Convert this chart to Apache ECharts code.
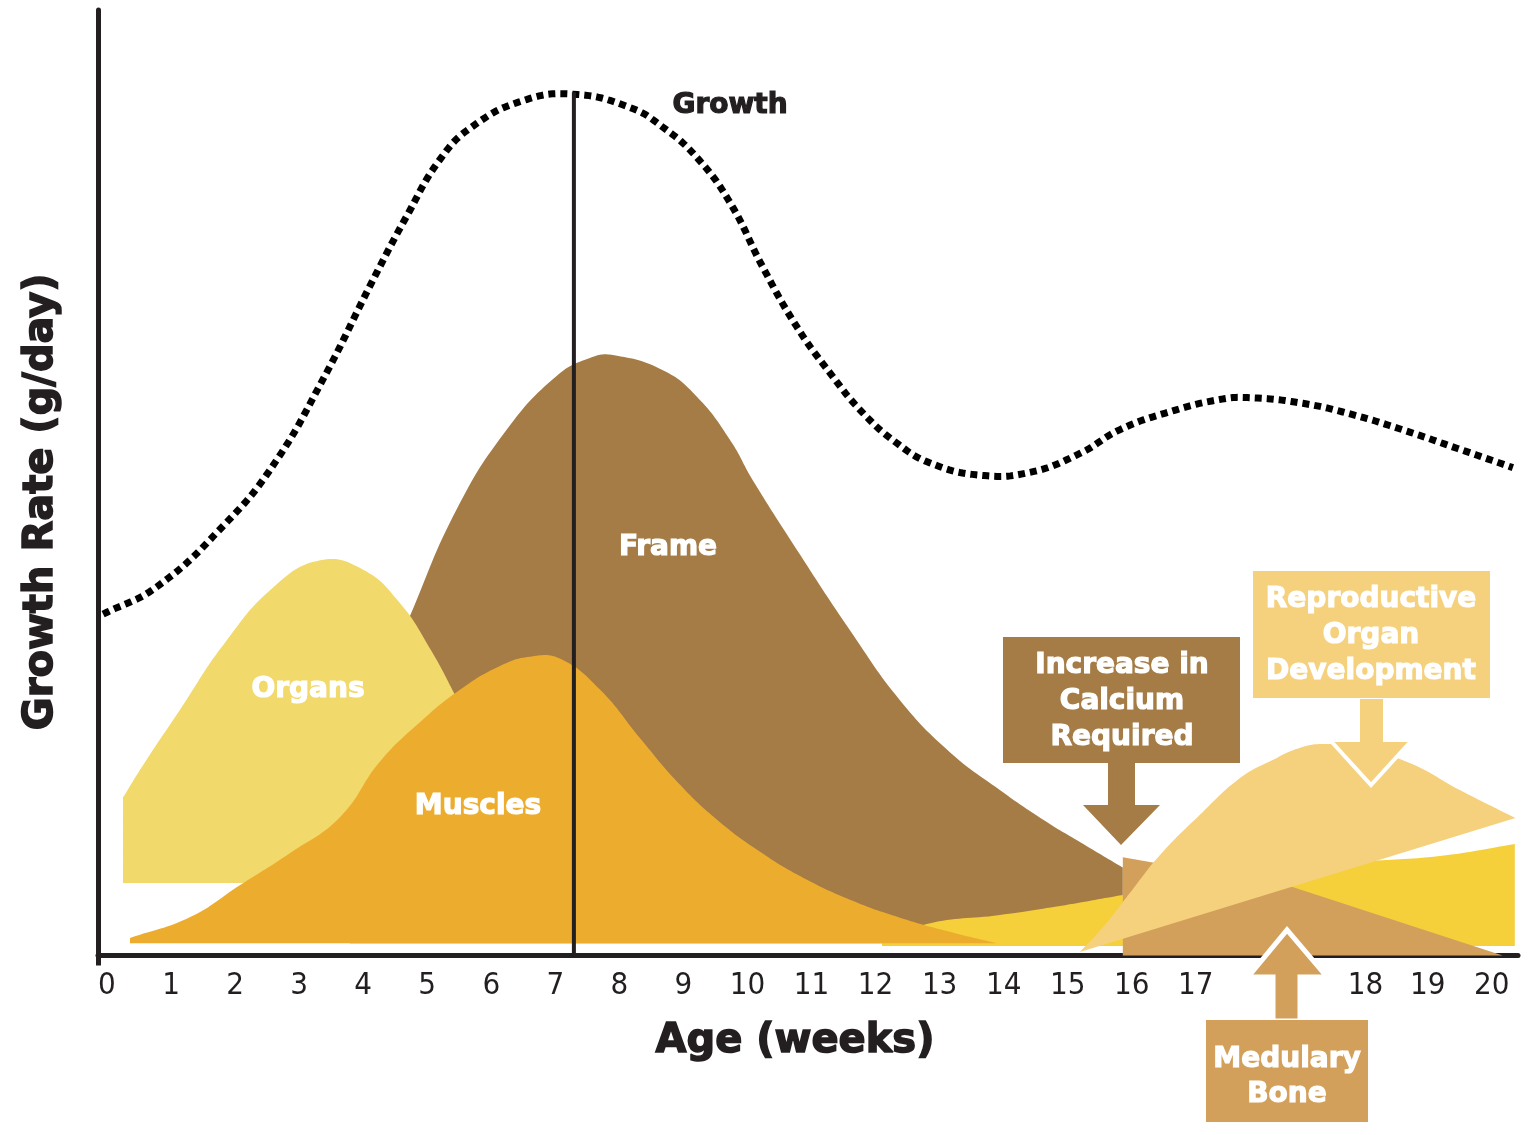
<!DOCTYPE html>
<html>
<head>
<meta charset="utf-8">
<title>Growth Rate (g/day)</title>
<script src="https://cdn.jsdelivr.net/npm/echarts@6/dist/echarts.min.js"></script>
<style>
  html, body { margin: 0; padding: 0; background: #fff; }
  #chart { width: 1536px; height: 1135px; }
</style>
</head>
<body>
<div id="chart"></div>
<script>
// x is in axis weeks: 0..17 evenly spaced, then the axis jumps (room for the arrow) before 18
var ageTicks  = [0,1,2,3,4,5,6,7,8,9,10,11,12,13,14,15,16,17,19.65,20.62,21.62];
var ageLabels = ['0','1','2','3','4','5','6','7','8','9','10','11','12','13','14','15','16','17','18','19','20'];

// [x, growth rate] (y axis has no scale, 0..100)
var growth = [[-0.06,36.1],[0.78,39.0],[1.81,45.4],[2.59,51.8],[3.37,60.9],[4.15,71.4],[4.68,78.2],
  [5.20,84.2],[5.71,87.7],[6.49,90.4],[7.27,91.1],[8.16,89.7],[8.68,87.6],[9.21,84.4],[9.73,79.6],
  [10.24,72.8],[10.77,66.5],[11.29,61.6],[11.80,57.4],[12.33,54.2],[12.85,52.1],[13.63,50.8],
  [14.41,51.1],[15.19,53.1],[15.81,55.6],[16.59,57.5],[17.37,58.8],[17.84,59.0],[18.67,58.4],
  [19.45,57.2],[20.23,55.6],[21.01,53.8],[21.95,51.6]];

var frame = [[3.79,19.6],[4.26,28.1],[4.73,35.9],[5.46,47.2],[6.24,55.6],[7.02,61.3],[7.54,63.2],
  [7.90,63.5],[8.68,61.9],[9.21,59.1],[9.73,54.5],[10.08,50.3],[10.82,42.4],[11.60,34.4],
  [12.38,27.0],[13.16,21.5],[13.94,17.5],[14.63,14.3],[15.19,12.0],[15.86,9.3]];

var organs = [[0.25,16.7],[0.56,20.1],[1.14,26.0],[1.81,32.8],[2.59,38.9],[3.33,41.8],[4.00,40.8],
  [4.57,37.3],[5.04,32.5],[5.43,27.6],[5.82,22.3],[6.21,16.5],[6.60,11.2],[6.92,7.8]];

var muscles = [[0.36,1.85],[1.30,4.07],[2.08,7.46],[2.86,10.84],[3.64,14.65],[4.26,20.5],[4.89,24.7],
  [5.51,28.1],[6.13,30.6],[6.60,31.6],[7.07,31.4],[7.70,28.1],[8.32,23.0],[8.94,18.1],[9.57,14.1],
  [10.19,11.0],[10.82,8.4],[11.60,5.9],[12.38,4.0],[13.16,2.5],[13.89,1.3]];

var calcium = [[12.10,1.3],[12.80,3.33],[13.94,4.28],[14.88,5.24],[15.86,6.40],[17.06,7.77],
  [18.47,9.04],[19.56,9.89],[20.81,10.52],[21.98,11.79]];

var medullary = [[15.86,10.4],[18.51,7.24],[21.79,0]];

var reproTop = [[15.19,0.37],[15.58,3.23],[15.97,6.61],[16.44,10.63],[17.06,14.86],[17.69,18.77],
  [18.20,20.68],[18.62,21.95],[19.01,22.37],[19.56,21.95],[20.34,20.36],[21.12,17.50],[21.99,14.54]];
var reproBase = [[15.19,0.37],[21.99,14.54]];

var peakWeek = [[7.29,0],[7.29,91.3]];

var dark = '#231F20';
var heavy = '"DejaVu Sans", "Liberation Sans", sans-serif';

// smooth curve through pixel points (cubic segments, sampled for drawing)
function sampleCurve(px, s) {
  function dist(a, b) { return Math.hypot(b[0] - a[0], b[1] - a[1]); }
  var out = [px[0]];
  for (var i = 0; i < px.length - 1; i++) {
    var p0 = px[i - 1] || px[i], p1 = px[i], p2 = px[i + 1], p3 = px[i + 2] || px[i + 1];
    var d01 = dist(p0, p1), d12 = dist(p1, p2), d23 = dist(p2, p3);
    var k1 = s * d12 / (d01 + d12), k2 = s * d12 / (d12 + d23);
    var c1 = [p1[0] + (p2[0] - p0[0]) * k1, p1[1] + (p2[1] - p0[1]) * k1];
    var c2 = [p2[0] - (p3[0] - p1[0]) * k2, p2[1] - (p3[1] - p1[1]) * k2];
    for (var j = 1; j <= 16; j++) {
      var t = j / 16, u = 1 - t;
      out.push([
        u*u*u*p1[0] + 3*u*u*t*c1[0] + 3*u*t*t*c2[0] + t*t*t*p2[0],
        u*u*u*p1[1] + 3*u*u*t*c1[1] + 3*u*t*t*c2[1] + t*t*t*p2[1]
      ]);
    }
  }
  return out;
}

function shape(name, pts, cfg) {
  return {
    name: name, type: 'custom', silent: true, z: cfg.z || 2, data: pts,
    renderItem: function (params, api) {
      if (params.dataIndex !== 0) return null;
      var px = pts.map(function (p) { return api.coord(p); });
      var line = cfg.smooth ? sampleCurve(px, cfg.smooth) : px;
      if (cfg.stroke) {
        return { type: 'polyline', shape: { points: line },
          style: { fill: 'none', stroke: cfg.stroke, lineWidth: cfg.width, lineDash: cfg.dash, lineCap: 'butt' } };
      }
      var poly;
      if (cfg.base) {
        var bp = cfg.base.map(function (p) { return api.coord(p); });
        poly = line.concat(bp.slice(1, -1).reverse());
      } else {
        var oy = api.coord([0, cfg.origin])[1];
        poly = [[px[0][0], oy]].concat(line, [[px[px.length - 1][0], oy]]);
      }
      return { type: 'polygon', shape: { points: poly }, style: { fill: cfg.color } };
    }
  };
}

function boxText(x, y, text, color, lh) {
  return {
    type: 'text', z: 110, x: x, y: y,
    style: { text: text, fill: color, font: 'bold 28px ' + heavy, align: 'center',
      verticalAlign: 'middle', lineHeight: lh || 36, stroke: color, lineWidth: 1.2 }
  };
}

var chart = echarts.init(document.getElementById('chart'));

var option = {
  animation: false,
  grid: { left: 98, right: 18, top: 10, bottom: 179.5 },
  xAxis: {
    type: 'value', min: -0.14, max: 22.03,
    splitLine: { show: false },
    axisLine: { lineStyle: { color: dark, width: 5 } },
    axisTick: { show: true, customValues: [-0.14], length: 10, lineStyle: { color: dark, width: 5 } },
    axisLabel: {
      customValues: ageTicks,
      formatter: function (v) {
        var best = 0;
        ageTicks.forEach(function (t, i) { if (Math.abs(t - v) < Math.abs(ageTicks[best] - v)) best = i; });
        return ageLabels[best];
      },
      color: dark, fontSize: 31, margin: 15,
      fontFamily: '"Liberation Sans Narrow", "DejaVu Sans Condensed", "Open Sans", sans-serif'
    },
    name: 'Age (weeks)', nameLocation: 'middle', nameGap: 66,
    nameTextStyle: { color: dark, fontSize: 40, fontWeight: 'bold', fontFamily: heavy,
      padding: [0, 26, 0, 0], textBorderColor: dark, textBorderWidth: 1.5 }
  },
  yAxis: {
    type: 'value', min: 0, max: 100,
    splitLine: { show: false },
    axisLine: { show: true, onZero: false, lineStyle: { color: dark, width: 5 } },
    axisTick: { show: false },
    axisLabel: { show: false },
    name: 'Growth Rate (g/day)', nameLocation: 'middle', nameGap: 36,
    nameTextStyle: { color: dark, fontSize: 40, fontWeight: 'bold', fontFamily: heavy,
      padding: [0, 38, 0, 0], textBorderColor: dark, textBorderWidth: 1.5 }
  },
  series: [
    shape('Frame', frame, { color: '#A57C46', origin: 1.3, smooth: 0.45 }),
    shape('Organs', organs, { color: '#F2D96B', origin: 7.67, smooth: 0.45 }),
    shape('Calcium', calcium, { color: '#F5D03A', origin: 1.0, smooth: 0.45 }),
    shape('Muscles', muscles, { color: '#ECAD2E', origin: 1.3, smooth: 0.45 }),
    shape('Medulary Bone', medullary, { color: '#D3A05C', origin: 0 }),
    shape('Reproductive', reproTop, { color: '#F5D17E', base: reproBase, smooth: 0.45 }),
    shape('Growth', growth, { stroke: '#000', width: 7, dash: [7, 5], smooth: 0.45, z: 5 }),
    {
      name: 'peak', type: 'line', data: peakWeek, symbol: 'none', silent: true, z: 6,
      lineStyle: { color: dark, width: 4 }
    }
  ],
  graphic: [
    { type: 'text', z: 110, x: 730, y: 106,
      style: { text: 'Growth', fill: dark, font: 'bold 28px ' + heavy, align: 'center',
        verticalAlign: 'middle', stroke: dark, lineWidth: 1.2 } },
    boxText(308, 690, 'Organs', '#fff'),
    boxText(668, 548, 'Frame', '#fff'),
    boxText(478, 807, 'Muscles', '#fff'),

    // calcium callout
    { type: 'polygon', z: 100,
      shape: { points: [[1108,762],[1135,762],[1135,805],[1160,805],[1121,845],[1083,805],[1108,805]] },
      style: { fill: '#A57C46' } },
    { type: 'rect', z: 101, shape: { x: 1003, y: 637, width: 237, height: 126 }, style: { fill: '#A57C46' } },
    boxText(1122, 702, 'Increase in\nCalcium\nRequired', '#fff'),

    // reproductive callout
    { type: 'polygon', z: 100,
      shape: { points: [[1358,697],[1385,697],[1385,740],[1412,740],[1371,785],[1330,740],[1358,740]] },
      style: { fill: '#F5D17E', stroke: '#fff', lineWidth: 4, lineJoin: 'miter' } },
    { type: 'rect', z: 101, shape: { x: 1253, y: 571, width: 237, height: 127 }, style: { fill: '#F5D17E' } },
    boxText(1371, 636, 'Reproductive\nOrgan\nDevelopment', '#fff'),

    // medulary bone callout
    { type: 'polygon', z: 100,
      shape: { points: [[1273,1021],[1273,977],[1248,977],[1287,930],[1327,977],[1300,977],[1300,1021]] },
      style: { fill: '#D3A05C', stroke: '#fff', lineWidth: 5, lineJoin: 'miter' } },
    { type: 'rect', z: 101, shape: { x: 1206, y: 1020, width: 162, height: 102 }, style: { fill: '#D3A05C' } },
    boxText(1287, 1077, 'Medulary\nBone', '#fff', 35)
  ]
};

chart.setOption(option);
</script>
</body>
</html>
